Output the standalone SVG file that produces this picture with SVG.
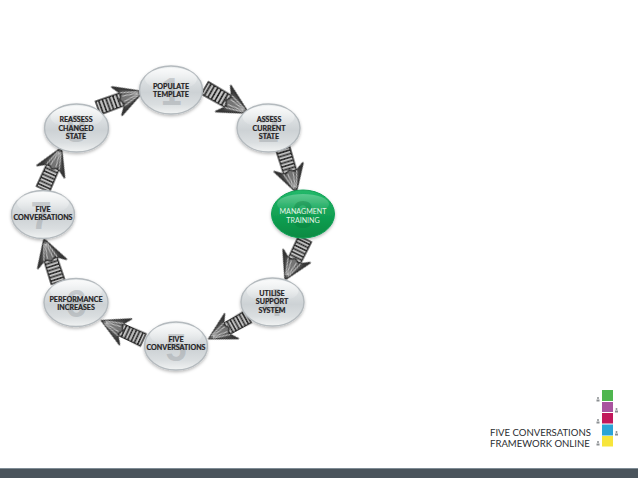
<svg xmlns="http://www.w3.org/2000/svg" width="638" height="478" viewBox="0 0 638 478">
<style>
.lbl{font-family:"Lato","Liberation Sans",sans-serif;font-size:7.1px;font-weight:700;fill:#1f2123;stroke:#1f2123;stroke-width:.2;text-anchor:middle}
.w{fill:#e6f5ea;stroke:none;font-weight:400}
.num{font-family:"Liberation Sans",sans-serif;font-size:38px;font-weight:700;fill:#8f9499;fill-opacity:.38;text-anchor:middle}
.g{fill:url(#gr);stroke:#b4babe;stroke-width:1.4;filter:url(#sh)}
.sh{fill:url(#gl)}
.brand{font-family:"Lato","Liberation Sans",sans-serif;font-size:9.55px;fill:#2a2d30}
.p{fill:#8b8f92}
</style>
<defs>
<linearGradient id="gr" x1="0" y1="0" x2="0" y2="1"><stop offset="0" stop-color="#eef1f2"/><stop offset=".55" stop-color="#cdd2d5"/><stop offset=".8" stop-color="#dadee0"/><stop offset="1" stop-color="#f1f3f3"/></linearGradient>
<linearGradient id="gn" x1="0" y1="0" x2="0" y2="1"><stop offset="0" stop-color="#22b96a"/><stop offset=".6" stop-color="#0f9d50"/><stop offset="1" stop-color="#078a42"/></linearGradient>
<linearGradient id="gl" x1="0" y1="0" x2="0" y2="1"><stop offset="0" stop-color="#fff" stop-opacity=".7"/><stop offset="1" stop-color="#fff" stop-opacity="0"/></linearGradient>
<linearGradient id="hd" x1="0" y1="0" x2="0" y2="1"><stop offset="0" stop-color="#242424"/><stop offset=".5" stop-color="#777"/><stop offset="1" stop-color="#222"/></linearGradient>
<filter id="sh" x="-20%" y="-20%" width="140%" height="150%"><feDropShadow dx="0" dy="1.5" stdDeviation="1.5" flood-color="#000" flood-opacity=".28"/></filter>
<filter id="soft" x="-10%" y="-20%" width="120%" height="140%"><feGaussianBlur stdDeviation=".4"/></filter>
<g id="arrow" filter="url(#soft)">
<path d="M0 -7L26 -6.500V6.500L0 7Z" fill="#cfcfcf" stroke="#2b2b2b" stroke-width="1.500"/>
<path d="M3 -7V7M6.500 -7V7M10 -7V7M13.500 -7V7M17 -7V7M20.500 -7V7M24 -7V7" stroke="#242424" stroke-width="1.800" fill="none"/>
<path d="M45 0L19 -15L25 -6L22 0L25 6L19 15Z" fill="url(#hd)" stroke="#333" stroke-width="1.500" stroke-linejoin="round"/>
<path d="M24 -7L41 -1.500M25 -3L40 -.5M25 3L40 .5M24 7L41 1.500" stroke="#dcdcdc" stroke-width=".8" fill="none"/>
</g>
</defs>
<rect width="638" height="478" fill="#fff"/>
<g id="connectors">
<use href="#arrow" transform="translate(205 88) rotate(30) scale(1.11 1)"/>
<use href="#arrow" transform="translate(283 149) rotate(73) scale(1 1)"/>
<use href="#arrow" transform="translate(305 239) rotate(116) scale(1 1)"/>
<use href="#arrow" transform="translate(248 317) rotate(151) scale(1 .95)"/>
<use href="#arrow" transform="translate(143 340) rotate(-155) scale(1.02 .95)"/>
<use href="#arrow" transform="translate(58 282) rotate(-108) scale(1 1)"/>
<use href="#arrow" transform="translate(43 189) rotate(-66) scale(1 1)"/>
<use href="#arrow" transform="translate(98 108) rotate(-20) scale(1.06 1)"/>
</g>
<g id="node1"><ellipse class="g" cx="171" cy="90" rx="31.5" ry="24"/><ellipse class="sh" cx="171" cy="79" rx="26" ry="11"/><text class="num" x="171" y="105">1</text><text class="lbl" x="171" y="88.500">POPULATE</text><text class="lbl" x="171" y="96.500">TEMPLATE</text></g>
<g id="node2"><ellipse class="g" cx="268.500" cy="128" rx="31.5" ry="24"/><ellipse class="sh" cx="268.500" cy="117" rx="26" ry="11"/><text class="num" x="268.500" y="142">2</text><text class="lbl" x="269" y="122">ASSESS</text><text class="lbl" x="269" y="130.500">CURRENT</text><text class="lbl" x="269" y="139">STATE</text></g>
<g id="node3"><ellipse cx="303" cy="214" rx="31.500" ry="24" fill="url(#gn)" stroke="#12a055" stroke-width="1" filter="url(#sh)"/><ellipse class="sh" cx="303" cy="204" rx="26" ry="10" opacity=".4"/><text class="num" x="303" y="228" style="fill:#0a7c3d">3</text><text class="lbl w" x="303" y="214">MANAGMENT</text><text class="lbl w" x="303" y="222.500">TRAINING</text></g>
<g id="node4"><ellipse class="g" cx="272.500" cy="302" rx="31.5" ry="24"/><ellipse class="sh" cx="272.500" cy="291" rx="26" ry="11"/><text class="num" x="272.500" y="316">4</text><text class="lbl" x="272" y="295.500">UTILISE</text><text class="lbl" x="272" y="304">SUPPORT</text><text class="lbl" x="272" y="312.500">SYSTEM</text></g>
<g id="node5"><ellipse class="g" cx="176" cy="346" rx="31.5" ry="24"/><ellipse class="sh" cx="176" cy="335" rx="26" ry="11"/><text class="num" x="176" y="361">5</text><text class="lbl" x="176" y="341.500">FIVE</text><text class="lbl" x="176" y="349.500">CONVERSATIONS</text></g>
<g id="node6"><ellipse class="g" cx="76" cy="302.500" rx="32" ry="24"/><ellipse class="sh" cx="76" cy="291" rx="26" ry="11"/><text class="num" x="76" y="317">6</text><text class="lbl" x="76" y="302">PERFORMANCE</text><text class="lbl" x="76" y="310">INCREASES</text></g>
<g id="node7"><ellipse class="g" cx="43" cy="214.500" rx="31.5" ry="24"/><ellipse class="sh" cx="43" cy="203" rx="26" ry="11"/><text class="num" x="41" y="229">7</text><text class="lbl" x="43" y="212">FIVE</text><text class="lbl" x="43" y="220">CONVERSATIONS</text></g>
<g id="node8"><ellipse class="g" cx="76.500" cy="128" rx="32" ry="24"/><ellipse class="sh" cx="76.500" cy="117" rx="26" ry="11"/><text class="num" x="76" y="142">8</text><text class="lbl" x="76" y="122">REASSESS</text><text class="lbl" x="76" y="130.500">CHANGED</text><text class="lbl" x="76" y="139">STATE</text></g>
<g id="logo">
<rect x="602" y="390" width="11" height="11" fill="#4fb64f"/>
<rect x="602" y="402" width="11" height="10" fill="#a9549f"/>
<rect x="602" y="413" width="11" height="10.500" fill="#c2185b"/>
<rect x="602" y="424.500" width="11" height="11" fill="#2ba4d6"/>
<rect x="602" y="436" width="11" height="10.500" fill="#f7e53b"/>
<g class="p"><circle cx="598" cy="398" r="1"/><rect x="596.500" y="399.500" width="3" height="2"/><circle cx="616.500" cy="409" r="1"/><rect x="615" y="410.500" width="3" height="2"/><circle cx="598" cy="420" r="1"/><rect x="596.500" y="421.500" width="3" height="2"/><circle cx="616.500" cy="432" r="1"/><rect x="615" y="433.500" width="3" height="2"/><circle cx="598" cy="442" r="1"/><rect x="596.500" y="443.500" width="3" height="2"/></g>
<text class="brand" x="490" y="435.500">FIVE CONVERSATIONS</text>
<text class="brand" x="490" y="447">FRAMEWORK ONLINE</text>
</g>
<rect id="footer" x="0" y="468" width="638" height="10" fill="#4a545c"/>
<rect x="0" y="468" width="638" height="1" fill="#7f8c96"/>
</svg>
